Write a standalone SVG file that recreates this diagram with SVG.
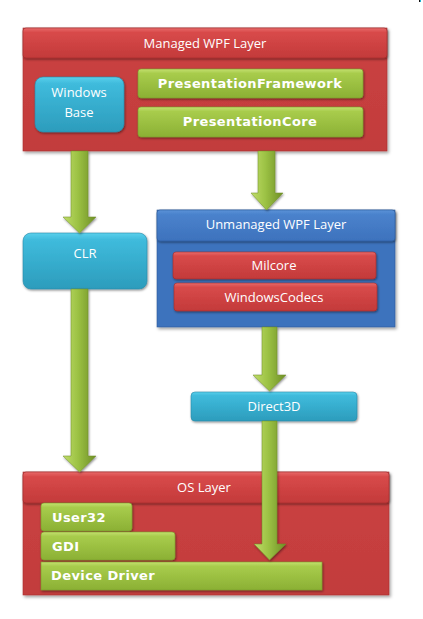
<svg xmlns="http://www.w3.org/2000/svg" width="423" height="619" viewBox="0 0 423 619">
<defs>
<style>
.t{font-family:"Open Sans","Noto Sans",sans-serif;font-size:13px;fill:#ffffff;text-anchor:middle}
.b{font-family:"DejaVu Sans",Verdana,sans-serif;font-weight:bold;font-size:13px;letter-spacing:0.4px;fill:#ffffff}
</style>
<linearGradient id="redH" x1="0" y1="0" x2="0" y2="1"><stop offset="0" stop-color="#e86a6a"/><stop offset="0.15" stop-color="#d84a4a"/><stop offset="1" stop-color="#c33a3a"/></linearGradient>
<linearGradient id="redB" x1="0" y1="0" x2="0" y2="1"><stop offset="0" stop-color="#cb4242"/><stop offset="1" stop-color="#c23c3c"/></linearGradient>
<linearGradient id="blueH" x1="0" y1="0" x2="0" y2="1"><stop offset="0" stop-color="#5a92d8"/><stop offset="0.15" stop-color="#4a82cc"/><stop offset="1" stop-color="#3d72bd"/></linearGradient>
<linearGradient id="cyan" x1="0" y1="0" x2="0" y2="1"><stop offset="0" stop-color="#5ad0ec"/><stop offset="0.12" stop-color="#3fbbdc"/><stop offset="1" stop-color="#2c9cbc"/></linearGradient>
<linearGradient id="green" x1="0" y1="0" x2="0" y2="1"><stop offset="0" stop-color="#c4e070"/><stop offset="0.15" stop-color="#a8cc4c"/><stop offset="1" stop-color="#8bb034"/></linearGradient>
<linearGradient id="arrowG" x1="0" y1="0" x2="1" y2="0"><stop offset="0" stop-color="#c0dc6a"/><stop offset="0.45" stop-color="#9cc244"/><stop offset="1" stop-color="#6e8e26"/></linearGradient>
<filter id="sh" x="-10%" y="-10%" width="125%" height="130%"><feDropShadow dx="1.5" dy="2" stdDeviation="1.5" flood-color="#000" flood-opacity="0.35"/></filter>
<filter id="sh2" x="-10%" y="-20%" width="125%" height="150%"><feDropShadow dx="0.8" dy="1.2" stdDeviation="0.8" flood-color="#000" flood-opacity="0.45"/></filter>
</defs>
<rect x="419" y="0" width="1" height="2" fill="#111"/><rect x="420" y="0" width="1" height="2" fill="#1ab0d0"/>

<g id="managed">
<rect x="23" y="28" width="364" height="123" fill="url(#redB)" stroke="#a83030" stroke-width="0.6" filter="url(#sh)"/>
<rect x="23" y="28" width="364" height="30" rx="3" fill="url(#redH)" stroke="#9e2c2c" stroke-width="0.6" filter="url(#sh2)"/>
<text class="t" x="205" y="47.5">Managed WPF Layer</text>
</g>
<g id="windowsbase">
<rect x="35" y="77" width="89" height="55" rx="8" fill="url(#cyan)" stroke="#2a8aa8" stroke-width="0.6" filter="url(#sh2)"/>
<text class="t" x="79" y="97">Windows</text>
<text class="t" x="79" y="117">Base</text>
</g>
<g id="presentationframework">
<rect x="138" y="69" width="225" height="29" rx="3" fill="url(#green)" stroke="#7a9a2a" stroke-width="0.6" filter="url(#sh2)"/>
<text class="b" x="250" y="88" text-anchor="middle">PresentationFramework</text>
</g>
<g id="presentationcore">
<rect x="138" y="107" width="225" height="30" rx="3" fill="url(#green)" stroke="#7a9a2a" stroke-width="0.6" filter="url(#sh2)"/>
<text class="b" x="250" y="126" text-anchor="middle">PresentationCore</text>
</g>

<g id="clr">
<rect x="23" y="233" width="124" height="56" rx="8" fill="url(#cyan)" stroke="#2a8aa8" stroke-width="0.6" filter="url(#sh2)"/>
<text class="t" x="85" y="258">CLR</text>
</g>

<g id="unmanaged">
<rect x="157" y="210" width="238" height="117" fill="#3e73bd" stroke="#2e5a9a" stroke-width="0.6" filter="url(#sh)"/>
<rect x="157" y="210" width="238" height="31" rx="3" fill="url(#blueH)" stroke="#2e5a9a" stroke-width="0.6" filter="url(#sh2)"/>
<text class="t" x="276" y="229">Unmanaged WPF Layer</text>
</g>
<g id="milcore">
<rect x="173" y="252" width="203" height="27" rx="3" fill="url(#redH)" stroke="#9e2c2c" stroke-width="0.6" filter="url(#sh2)"/>
<text class="t" x="274" y="270">Milcore</text>
</g>
<g id="windowscodecs">
<rect x="174" y="283" width="203" height="28" rx="3" fill="url(#redH)" stroke="#9e2c2c" stroke-width="0.6" filter="url(#sh2)"/>
<text class="t" x="274" y="302">WindowsCodecs</text>
</g>

<g id="direct3d">
<rect x="191" y="392" width="166" height="29" rx="4" fill="url(#cyan)" stroke="#2a8aa8" stroke-width="0.6" filter="url(#sh2)"/>
<text class="t" x="274" y="411">Direct3D</text>
</g>

<g id="oslayer">
<rect x="23" y="472" width="366" height="123" fill="url(#redB)" stroke="#a83030" stroke-width="0.6" filter="url(#sh)"/>
<rect x="23" y="472" width="366" height="31" rx="3" fill="url(#redH)" stroke="#9e2c2c" stroke-width="0.6" filter="url(#sh2)"/>
<text class="t" x="204" y="491.5">OS Layer</text>
</g>
<g id="user32">
<rect x="41" y="503" width="91" height="28" rx="3" fill="url(#green)" stroke="#7a9a2a" stroke-width="0.6" filter="url(#sh2)"/>
<text class="b" x="52" y="522">User32</text>
</g>
<g id="gdi">
<rect x="41" y="532" width="134" height="28" rx="3" fill="url(#green)" stroke="#7a9a2a" stroke-width="0.6" filter="url(#sh2)"/>
<text class="b" x="52" y="551">GDI</text>
</g>
<g id="devicedriver">
<rect x="41" y="562" width="281" height="28" fill="url(#green)" stroke="#7a9a2a" stroke-width="0.6" filter="url(#sh2)"/>
<text class="b" x="51" y="580">Device Driver</text>
</g>

<g id="connectors" fill="url(#arrowG)" stroke="#6e8e26" stroke-width="0.5" filter="url(#sh2)">
<path d="M71,151 H88 V217 H96 L79.5,233 L63,217 H71 Z"/>
<path d="M258,151 H275 V193 H283 L266.5,210 L251,193 H258 Z"/>
<path d="M71,289 H88 V456 H96 L79.5,472 L63,456 H71 Z"/>
<path d="M262,327 H277 V375 H286 L269.5,391 L253,375 H262 Z"/>
<path d="M262,421 H277 V544 H286 L269.5,560 L254,544 H262 Z"/>
</g>
</svg>
